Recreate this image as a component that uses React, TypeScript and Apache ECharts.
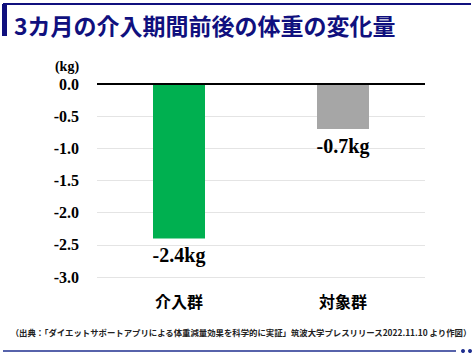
import React, { useEffect, useRef } from "react";
import * as echarts from "echarts";

const categories = ["介入群", "対象群"];
const values = [-2.4, -0.7];
const barColors = ["#00b050", "#a6a6a6"];
const valueLabels = ["-2.4kg", "-0.7kg"];
const yMin = -3;
const yMax = 0;
const yInterval = 0.5;

const titleText = "3カ月の介入期間前後の体重の変化量";
const unitText = "(kg)";
const footerText =
  "（出典：「ダイエットサポートアプリによる体重減量効果を科学的に実証」筑波大学プレスリリース2022.11.10 より作図）";

const NAVY = "#10107e";
const SERIF = "'Liberation Serif', 'DejaVu Serif', serif";
const GOTHIC = "'Noto Sans CJK JP', 'Noto Sans', sans-serif";

export default function App() {
  const ref = useRef<HTMLDivElement>(null);
  useEffect(() => {
    if (!ref.current) return;
    const chart = echarts.init(ref.current, null, { renderer: "svg" });
    chart.setOption({
      animation: false,
      backgroundColor: "#ffffff",
      grid: { left: 97, right: 49, top: 84, bottom: 78 },
      xAxis: {
        type: "category",
        data: categories,
        position: "bottom",
        axisLine: { show: false },
        axisTick: { show: false },
        axisLabel: {
          margin: 16,
          fontFamily: GOTHIC,
          fontWeight: "bold",
          fontSize: 16,
          color: "#000",
        },
      },
      yAxis: {
        type: "value",
        min: yMin,
        max: yMax,
        interval: yInterval,
        axisLine: { show: false },
        axisTick: { show: false },
        splitLine: { lineStyle: { color: "#e4e4e4", width: 1 } },
        axisLabel: {
          margin: 18,
          fontFamily: SERIF,
          fontWeight: "bold",
          fontSize: 16,
          color: "#000",
          formatter: (v: number) => v.toFixed(1),
        },
      },
      series: [
        {
          type: "bar",
          barWidth: 52,
          data: values.map((v, i) => ({
            value: v,
            itemStyle: { color: barColors[i] },
            label: { formatter: valueLabels[i] },
          })),
          label: {
            show: true,
            position: "bottom",
            distance: 7,
            fontFamily: SERIF,
            fontWeight: "bold",
            fontSize: 20,
            color: "#000",
          },
          markLine: {
            silent: true,
            symbol: "none",
            label: { show: false },
            lineStyle: { color: "#000", width: 2, type: "solid" },
            data: [{ yAxis: 0 }],
          },
        },
      ],
      graphic: [
        {
          type: "line",
          shape: { x1: 3, y1: 4, x2: 471, y2: 4 },
          style: { stroke: NAVY, lineWidth: 2 },
        },
        {
          type: "rect",
          shape: { x: 2, y: 4, width: 5, height: 32 },
          style: { fill: NAVY },
        },
        {
          type: "text",
          x: 14,
          y: 25,
          style: {
            text: titleText,
            fill: NAVY,
            font: `bold 23px ${GOTHIC}`,
            textAlign: "left",
            textVerticalAlign: "middle",
          },
        },
        {
          type: "text",
          x: 67,
          y: 66,
          style: {
            text: unitText,
            fill: "#000",
            font: `bold 14px ${SERIF}`,
            textAlign: "center",
            textVerticalAlign: "middle",
          },
        },
        {
          type: "text",
          x: 241,
          y: 332,
          style: {
            text: footerText,
            fill: "#222",
            font: `bold 8.4px ${GOTHIC}`,
            textAlign: "center",
            textVerticalAlign: "middle",
          },
        },
        {
          type: "line",
          shape: { x1: 3, y1: 351, x2: 456, y2: 351 },
          style: { stroke: "#1f2f8f", lineWidth: 1.5 },
        },
        {
          type: "circle",
          shape: { cx: 463, cy: 351, r: 2 },
          style: { fill: "#1f2f8f" },
        },
        {
          type: "circle",
          shape: { cx: 470, cy: 351, r: 2 },
          style: { fill: "#1f2f8f" },
        },
      ],
    });
    return () => chart.dispose();
  }, []);
  return (
    <div
      ref={ref}
      style={{ position: "fixed", left: 0, top: 0, width: 474, height: 355 }}
    />
  );
}
